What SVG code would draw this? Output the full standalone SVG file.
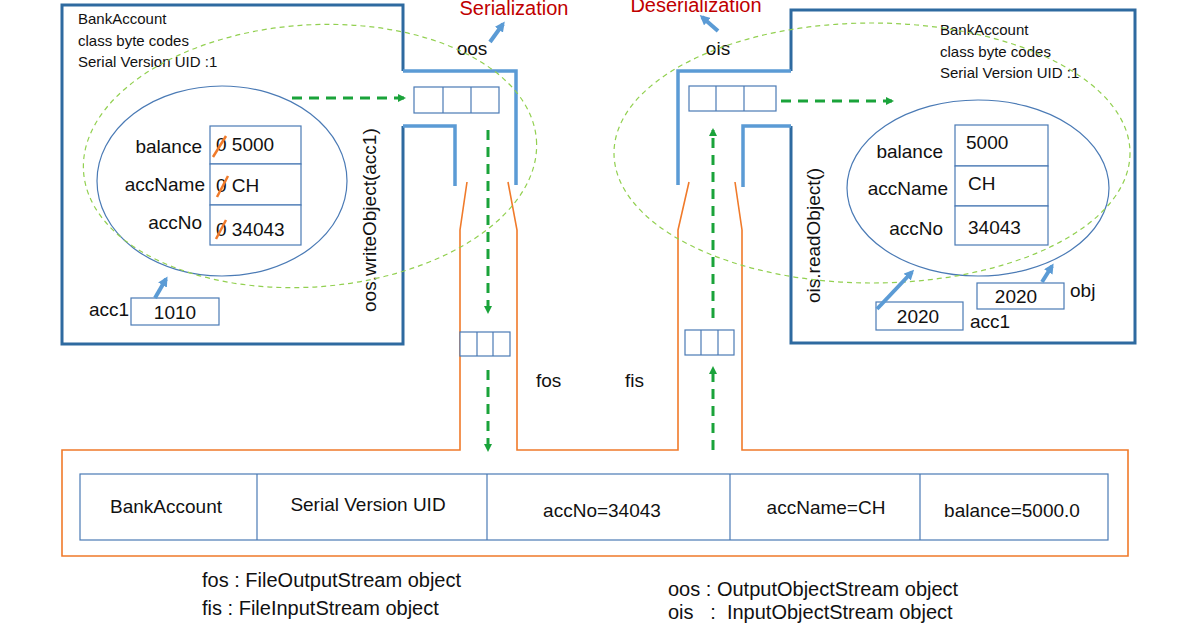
<svg xmlns="http://www.w3.org/2000/svg" width="1200" height="630" viewBox="0 0 1200 630">
<defs>
<marker id="ga" markerWidth="8" markerHeight="8" refX="6" refY="4" orient="auto" markerUnits="userSpaceOnUse"><path d="M0,0 L8,4 L0,8 z" fill="#1aa33a"/></marker>
<marker id="ba" markerWidth="10" markerHeight="10" refX="7" refY="5" orient="auto" markerUnits="userSpaceOnUse"><path d="M0,0 L10,5 L0,10 z" fill="#5b9bd5"/></marker>
</defs>
<style>
text{font-family:"Liberation Sans",Arial,sans-serif;fill:#111}
.box{fill:none;stroke:#2e6aa0;stroke-width:3}
.tube{fill:none;stroke:#5b9bd5;stroke-width:3.5}
.or{fill:none;stroke:#f07a2a;stroke-width:1.6}
.gd{fill:none;stroke:#92d050;stroke-width:1.2;stroke-dasharray:5 4}
.be{fill:none;stroke:#4a7ab5;stroke-width:1.2}
.cell{fill:#fff;stroke:#4a7ab5;stroke-width:1.2}
.ga{stroke:#1aa33a;stroke-width:3;stroke-dasharray:10 7;fill:none}
.ba{stroke:#5b9bd5;stroke-width:4;fill:none}
.strike{stroke:#f07a2a;stroke-width:2.5}
.s{font-size:15px}
.m{font-size:19px}
.l{font-size:20px}
.red{fill:#c00000;font-size:20px}
</style>
<rect width="1200" height="630" fill="#fff"/>
<g id="orange">
<path class="or" d="M467,182 L460,230 L460,450 L62,450 L62,556 L1128,556 L1128,450 L742,450 L742,230 L735,182"/>
<path class="or" d="M508,182 L517,230 L517,450 L678,450 L678,230 L689,182"/>
</g>
<g id="left-jvm">
<path class="box" d="M403,71 L403,5 L62,5 L62,344 L403,344 L403,126"/>
<path class="tube" d="M403,71 L516,71 L516,185"/>
<path class="tube" d="M403,126 L455,126 L455,186"/>
<text class="s" x="78" y="24">BankAccount</text>
<text class="s" x="78" y="46">class byte codes</text>
<text class="s" x="78" y="67">Serial Version UID :1</text>
<ellipse class="be" cx="222" cy="181" rx="125" ry="95"/>
<rect class="cell" x="210" y="126" width="91" height="38"/>
<rect class="cell" x="210" y="164" width="91" height="41"/>
<rect class="cell" x="210" y="205" width="91" height="40"/>
<text class="m" x="202" y="153" text-anchor="end">balance</text>
<text class="m" x="205" y="191" text-anchor="end">accName</text>
<text class="m" x="202" y="229" text-anchor="end">accNo</text>
<text class="m" x="216" y="151">0 5000</text>
<text class="m" x="216" y="192">0 CH</text>
<text class="m" x="216" y="236">0 34043</text>
<line class="strike" x1="213" y1="157" x2="226" y2="136"/>
<line class="strike" x1="217" y1="197" x2="228" y2="176"/>
<line class="strike" x1="216" y1="239" x2="226" y2="220"/>
<rect class="cell" x="131" y="298" width="88" height="27"/>
<text class="m" x="175" y="319" text-anchor="middle">1010</text>
<text class="m" x="89" y="316">acc1</text>
<text class="m" transform="translate(376,312) rotate(-90)">oos.writeObject(acc1)</text>
<text class="m" x="472" y="55" text-anchor="middle">oos</text>
<text class="red" x="514" y="15" text-anchor="middle">Serialization</text>
</g>
<g id="right-jvm">
<path class="box" d="M791,71 L791,10 L1135,10 L1135,343 L791,343 L791,126"/>
<path class="tube" d="M791,71 L678,71 L678,185"/>
<path class="tube" d="M791,126 L743,126 L743,187"/>
<text class="s" x="940" y="35">BankAccount</text>
<text class="s" x="940" y="57">class byte codes</text>
<text class="s" x="940" y="78">Serial Version UID :1</text>
<ellipse class="be" cx="978" cy="188" rx="131" ry="88"/>
<rect class="cell" x="955" y="125" width="93" height="41"/>
<rect class="cell" x="955" y="166" width="93" height="40"/>
<rect class="cell" x="955" y="206" width="93" height="39"/>
<text class="m" x="943" y="158" text-anchor="end">balance</text>
<text class="m" x="948" y="195" text-anchor="end">accName</text>
<text class="m" x="943" y="235" text-anchor="end">accNo</text>
<text class="m" x="966" y="149">5000</text>
<text class="m" x="968" y="190">CH</text>
<text class="m" x="968" y="234">34043</text>
<rect class="cell" x="876" y="302" width="87" height="28"/>
<text class="m" x="918" y="323" text-anchor="middle">2020</text>
<rect class="cell" x="977" y="283" width="87" height="26"/>
<text class="m" x="1016" y="303" text-anchor="middle">2020</text>
<text class="m" x="970" y="328">acc1</text>
<text class="m" x="1070" y="297">obj</text>
<text class="m" transform="translate(820,303) rotate(-90)">ois.readObject()</text>
<text class="m" x="718" y="55" text-anchor="middle">ois</text>
<text class="red" x="696" y="12" text-anchor="middle">Deserialization</text>
</g>
<g id="ellipses">
<ellipse class="gd" cx="310" cy="156" rx="227" ry="131" transform="rotate(-4 310 156)"/>
<ellipse class="gd" cx="872" cy="153" rx="258" ry="130"/>
</g>
<g id="queues">
<rect class="cell" x="414" y="87" width="85" height="26"/>
<line class="be" x1="443" y1="87" x2="443" y2="113"/><line class="be" x1="471" y1="87" x2="471" y2="113"/>
<rect class="cell" x="689" y="86" width="87" height="25"/>
<line class="be" x1="716" y1="86" x2="716" y2="111"/><line class="be" x1="744" y1="86" x2="744" y2="111"/>
<rect class="cell" x="460" y="332" width="50" height="24"/>
<line class="be" x1="477" y1="332" x2="477" y2="356"/><line class="be" x1="493" y1="332" x2="493" y2="356"/>
<rect class="cell" x="685" y="330" width="49" height="25"/>
<line class="be" x1="701" y1="330" x2="701" y2="355"/><line class="be" x1="718" y1="330" x2="718" y2="355"/>
</g>
<g id="file">
<rect class="cell" x="80" y="474" width="1028" height="66"/>
<line class="be" x1="257" y1="474" x2="257" y2="540"/>
<line class="be" x1="487" y1="474" x2="487" y2="540"/>
<line class="be" x1="730" y1="474" x2="730" y2="540"/>
<line class="be" x1="920" y1="474" x2="920" y2="540"/>
<text class="m" x="166" y="513" text-anchor="middle">BankAccount</text>
<text class="m" x="368" y="511" text-anchor="middle">Serial Version UID</text>
<text class="m" x="602" y="517" text-anchor="middle">accNo=34043</text>
<text class="m" x="826" y="514" text-anchor="middle">accName=CH</text>
<text class="m" x="1012" y="517" text-anchor="middle">balance=5000.0</text>
</g>
<g id="connectors">
<line class="ga" x1="292" y1="98" x2="404" y2="98" marker-end="url(#ga)"/>
<line class="ga" x1="488" y1="130" x2="488" y2="312" marker-end="url(#ga)"/>
<line class="ga" x1="488" y1="370" x2="488" y2="450" marker-end="url(#ga)"/>
<line class="ga" x1="713" y1="450" x2="713" y2="368" marker-end="url(#ga)"/>
<line class="ga" x1="713" y1="318" x2="713" y2="130" marker-end="url(#ga)"/>
<line class="ga" x1="781" y1="101" x2="892" y2="101" marker-end="url(#ga)"/>
<line class="ba" x1="490" y1="42" x2="503" y2="24" marker-end="url(#ba)"/>
<line class="ba" x1="718" y1="31" x2="702" y2="17" marker-end="url(#ba)"/>
<line class="ba" x1="155" y1="298" x2="166" y2="279" marker-end="url(#ba)"/>
<line class="ba" x1="877" y1="309" x2="912" y2="272" marker-end="url(#ba)"/>
<line class="ba" x1="1042" y1="282" x2="1052" y2="266" marker-end="url(#ba)"/>
</g>
<g id="legend">
<text class="l" x="202" y="587">fos : FileOutputStream object</text>
<text class="l" x="202" y="615">fis : FileInputStream object</text>
<text class="l" x="668" y="596">oos : OutputObjectStream object</text>
<text class="l" x="668" y="619" xml:space="preserve">ois   :  InputObjectStream object</text>
<text class="m" x="536" y="387">fos</text>
<text class="m" x="625" y="387">fis</text>
</g>
</svg>
